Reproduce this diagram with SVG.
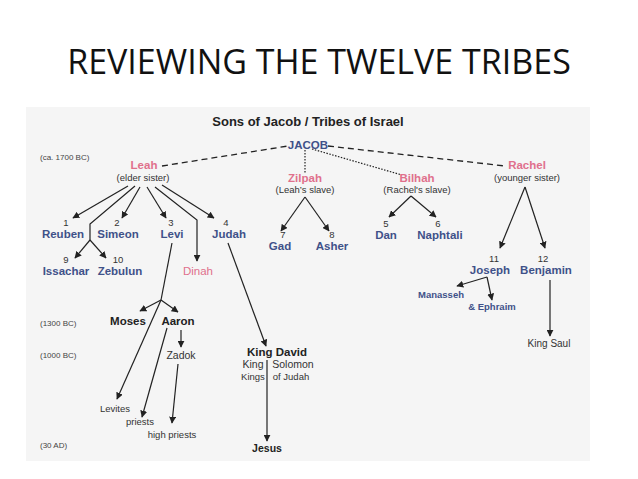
<svg xmlns="http://www.w3.org/2000/svg" width="638" height="479" viewBox="0 0 638 479">
<defs>
<marker id="a" viewBox="0 0 10 10" refX="9" refY="5" markerWidth="7" markerHeight="7" orient="auto" markerUnits="userSpaceOnUse"><path d="M0,0L10,5L0,10z" fill="#222"/></marker>
<style>
text{font-family:"Liberation Sans",Arial,sans-serif;text-anchor:middle}
.b{fill:#3f5189;font-weight:bold;font-size:11.5px}
.p{fill:#e0708c;font-weight:bold;font-size:11.5px}
.s{fill:#333;font-size:9.5px}
.n{fill:#333;font-size:9.5px}
.k{fill:#222;font-weight:bold;font-size:11.5px}
.t{fill:#444;font-size:8px;text-anchor:start}
.l{stroke:#222;stroke-width:1.2;fill:none}
.a{stroke:#222;stroke-width:1.2;fill:none;marker-end:url(#a)}
</style>
</defs>
<rect width="638" height="479" fill="#fff"/>
<text x="319" y="74" style="font-family:'Open Sans','Liberation Sans',sans-serif;font-size:34px;fill:#111">REVIEWING THE TWELVE TRIBES</text>
<rect x="26" y="107" width="564" height="354" fill="#f5f5f5"/>
<text x="308" y="126" style="font-weight:bold;font-size:13px;fill:#222">Sons of Jacob / Tribes of Israel</text>
<g id="timeline">
<text class="t" x="40" y="160">(ca. 1700 BC)</text>
<text class="t" x="40" y="326">(1300 BC)</text>
<text class="t" x="40" y="358">(1000 BC)</text>
<text class="t" x="40" y="448">(30 AD)</text>
</g>
<g id="connectors">
<path d="M162,166L288,146" stroke="#222" stroke-width="1.3" stroke-dasharray="6,4" fill="none"/>
<path d="M328,146L505,166" stroke="#222" stroke-width="1.3" stroke-dasharray="6,4" fill="none"/>
<path d="M305,150V173" stroke="#222" stroke-width="1.2" stroke-dasharray="1.5,1.5"/>
<path d="M312,149L402,175" stroke="#222" stroke-width="1.2" stroke-dasharray="1.5,1.5"/>
<path class="a" d="M128,186L73,218"/>
<path class="l" d="M135,186L90,224V240"/>
<path class="a" d="M90,240L75,258"/>
<path class="a" d="M90,240L106,258"/>
<path class="a" d="M140,187L122,218"/>
<path class="a" d="M147,187L166,218"/>
<path class="a" d="M155,187L197,220V261"/>
<path class="a" d="M162,185L214,218"/>
<path class="a" d="M305,197L281,231"/>
<path class="a" d="M305,197L329,231"/>
<path class="a" d="M411,196L389,217"/>
<path class="a" d="M411,196L436,217"/>
<path class="a" d="M525,187L500,248"/>
<path class="a" d="M525,187L545,248"/>
<path class="a" d="M487,277L457,286"/>
<path class="a" d="M487,277L492,300"/>
<path class="a" d="M550,280V336"/>
<path class="l" d="M172,243L161,300"/>
<path class="a" d="M161,300L140,311"/>
<path class="a" d="M161,300L178,312"/>
<path class="a" d="M161,300L117,399"/>
<path class="a" d="M167,328L142,417"/>
<path class="a" d="M181,330V347"/>
<path class="a" d="M178,364L172,423"/>
<path class="a" d="M228,243L266,346"/>
<path class="a" d="M267,360V441"/>
</g>
<g id="jacob"><text class="b" x="308" y="149">JACOB</text></g>
<g id="leah"><text class="p" x="144" y="169">Leah</text><text class="s" x="143" y="181">(elder sister)</text></g>
<g id="zilpah"><text class="p" x="305" y="182">Zilpah</text><text class="s" x="305" y="193">(Leah’s slave)</text></g>
<g id="bilhah"><text class="p" x="417" y="182">Bilhah</text><text class="s" x="417" y="193">(Rachel's slave)</text></g>
<g id="rachel"><text class="p" x="527" y="169">Rachel</text><text class="s" x="527" y="181">(younger sister)</text></g>
<g id="reuben"><text class="n" x="66" y="226">1</text><text class="b" x="63" y="238">Reuben</text></g>
<g id="simeon"><text class="n" x="117" y="226">2</text><text class="b" x="118" y="238">Simeon</text></g>
<g id="levi"><text class="n" x="171" y="226">3</text><text class="b" x="172" y="238">Levi</text></g>
<g id="judah"><text class="n" x="226" y="226">4</text><text class="b" x="229" y="238">Judah</text></g>
<g id="issachar"><text class="n" x="66" y="263">9</text><text class="b" x="66" y="275">Issachar</text></g>
<g id="zebulun"><text class="n" x="118" y="263">10</text><text class="b" x="120" y="275">Zebulun</text></g>
<g id="dinah"><text class="p" x="198" y="275" style="font-weight:normal">Dinah</text></g>
<g id="gad"><text class="n" x="283" y="238">7</text><text class="b" x="280" y="250">Gad</text></g>
<g id="asher"><text class="n" x="332" y="238">8</text><text class="b" x="332" y="250">Asher</text></g>
<g id="dan"><text class="n" x="386" y="227">5</text><text class="b" x="386" y="239">Dan</text></g>
<g id="naphtali"><text class="n" x="438" y="227">6</text><text class="b" x="440" y="239">Naphtali</text></g>
<g id="joseph"><text class="n" x="494" y="262">11</text><text class="b" x="490" y="274">Joseph</text></g>
<g id="benjamin"><text class="n" x="543" y="262">12</text><text class="b" x="546" y="274">Benjamin</text></g>
<g id="manasseh"><text class="b" x="441" y="298" style="font-size:9.5px">Manasseh</text></g>
<g id="ephraim"><text class="b" x="492" y="310" style="font-size:9.5px">&amp; Ephraim</text></g>
<g id="saul"><text class="s" x="549" y="347" style="font-size:10px">King Saul</text></g>
<g id="moses"><text class="k" x="128" y="325">Moses</text></g>
<g id="aaron"><text class="k" x="178" y="325">Aaron</text></g>
<g id="zadok"><text class="s" x="181" y="359" style="font-size:10.5px">Zadok</text></g>
<g id="levites"><text class="s" x="115" y="412">Levites</text></g>
<g id="priests"><text class="s" x="140" y="425">priests</text></g>
<g id="highpriests"><text class="s" x="172" y="438">high priests</text></g>
<g id="david"><text class="k" x="277" y="356">King David</text>
<text class="s" x="253" y="368" style="font-size:10.5px">King</text><text class="s" x="293" y="368" style="font-size:10.5px">Solomon</text>
<text class="s" x="253" y="380">Kings</text><text class="s" x="291" y="380">of  Judah</text></g>
<g id="jesus"><text class="k" x="267" y="452" style="font-size:10.5px">Jesus</text></g>
</svg>
